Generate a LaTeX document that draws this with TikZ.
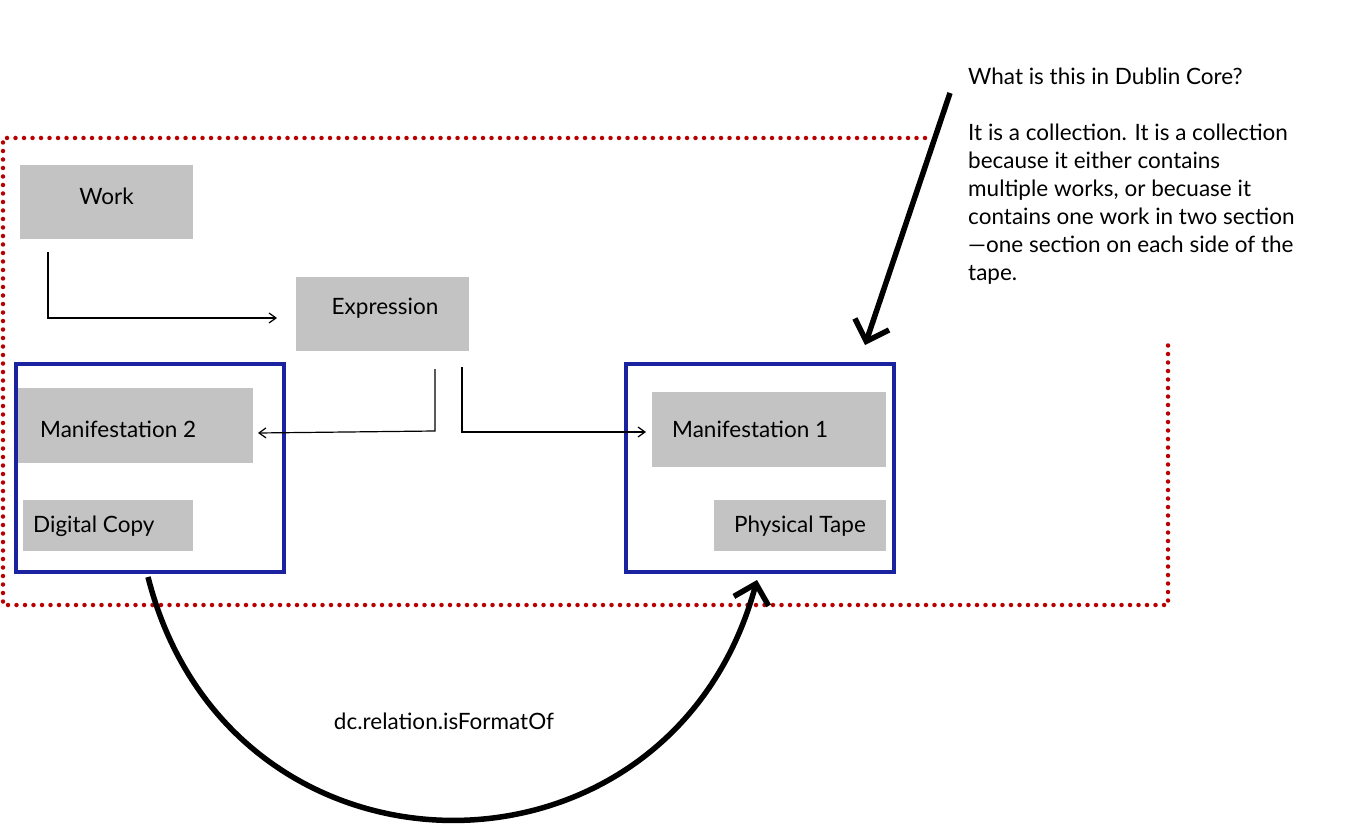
\documentclass[tikz,border=0pt]{standalone}
\usepackage{fontspec}
\setmainfont{Lato}
\usetikzlibrary{arrows.meta}
\definecolor{gbox}{HTML}{C3C3C3}
\definecolor{bframe}{HTML}{1A22A0}
\definecolor{rdot}{HTML}{B80000}
\begin{document}
\begin{tikzpicture}[x=1pt,y=-1pt,
  every node/.style={font=\fontsize{22.5}{26}\selectfont},
  gb/.style={fill=gbox,draw=none,inner sep=0pt},
  frame/.style={draw=bframe,line width=4pt},
  thin/.style={line width=1.2pt,-{Straight Barb[length=7pt,width=10pt]}},
  big/.style={line width=5.5pt,-{Straight Barb[length=18pt,width=36pt,line width=5.5pt]}}]
\useasboundingbox (0,0) rectangle (1367,826);
\draw[rdot,line width=4.5pt,dash pattern=on 0pt off 8.5pt,line cap=round]
  (925,138)--(3,138)--(3,605)--(1168,605)--(1168,345);
\fill[gbox] (20,165) rectangle (193,239);
\node (work) at (106.5,196) {Work};
\fill[gbox] (296,277) rectangle (469,351);
\node (expr) at (385,308) {Expression};
\node[frame,minimum width=268pt,minimum height=208pt,inner sep=0pt] (f2) at (150,468) {};
\node[frame,minimum width=268pt,minimum height=208pt,inner sep=0pt] (f1) at (760,468) {};
\fill[gbox] (18,388) rectangle (253,463);
\node[anchor=west,inner sep=0pt] (m2) at (40,429) {Manifestation 2};
\fill[gbox] (23,500) rectangle (193,551);
\node[anchor=west,inner sep=0pt] (dc) at (33,526) {Digital Copy};
\fill[gbox] (652,392) rectangle (886,467);
\node[anchor=west,inner sep=0pt] (m1) at (672,429) {Manifestation 1};
\fill[gbox] (714,500) rectangle (886,551);
\node (pt) at (800,526) {Physical Tape};
\coordinate (w0) at (48,252); \coordinate (w1) at (48,318); \coordinate (w2) at (277,318);
\draw[thin] (w0)--(w1)--(w2);
\coordinate (e0) at (435,369); \coordinate (e1) at (435,431); \coordinate (e2) at (258,433);
\draw[thin] (e0)--(e1)--(e2);
\coordinate (g0) at (462,367); \coordinate (g1) at (462,432); \coordinate (g2) at (646,432);
\draw[thin] (g0)--(g1)--(g2);
\coordinate (c0) at (148,577); \coordinate (c1) at (757,580);
\draw[big] (c0) .. controls (230,900) and (670,900) .. (c1);
\node (rel) at (444,721) {dc.relation.isFormatOf};
\coordinate (a0) at (950,93); \coordinate (a1) at (865,345);
\draw[big] (a0)--(a1);
\node[anchor=north west,align=left,inner sep=0pt,font=\fontsize{22.5}{28}\selectfont] (note) at (968,68)
 {What is this in Dublin Core?\\[28pt]It is a collection. It is a collection\\because it either contains\\multiple works, or becuase it\\contains one work in two section\\—one section on each side of the\\tape.};
\end{tikzpicture}
\end{document}
